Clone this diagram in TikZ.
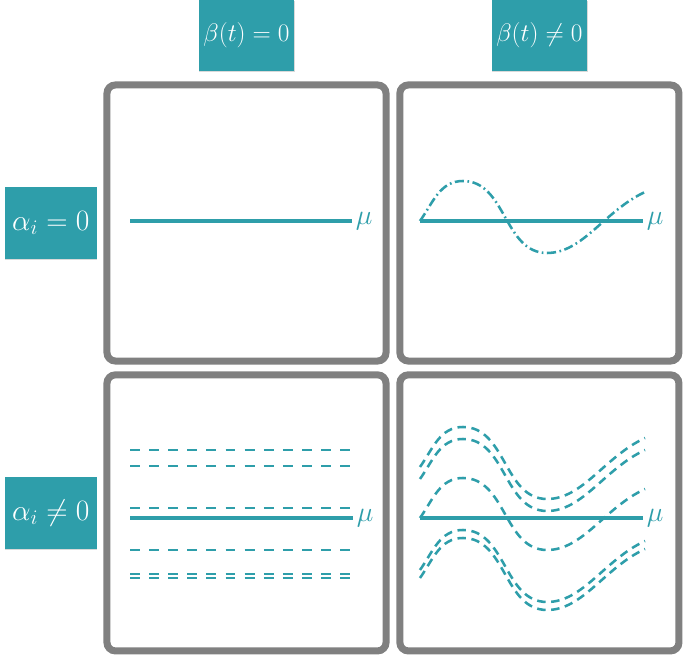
\RequirePackage{fix-cm}
\documentclass[tikz,border=0pt]{standalone}
\usepackage{amsmath,amssymb}
\usepackage{xcolor}
\usetikzlibrary{positioning,shadows}

\definecolor{tealbox}{RGB}{46,158,170}

\begin{document}
\begin{tikzpicture}[
  x=0.025cm, y=0.025cm,
  node distance=0.17cm,
  panel/.style={draw=gray, line width=5pt, rounded corners=6pt, fill=white,
                minimum width=6.975cm, minimum height=6.9cm},
  case/.style={fill=tealbox, text=white,
               minimum width=2.3cm, minimum height=1.78cm,
               drop shadow={opacity=0.3, shadow xshift=0.4pt, shadow yshift=-1.2pt}},
  mean/.style={draw=tealbox, line width=2.6pt},
  spread/.style={draw=tealbox, line width=1.8pt, dash pattern=on 7pt off 6.6pt},
  wiggle/.style={draw=tealbox, line width=1.8pt, dash pattern=on 6pt off 4pt},
  wigglemix/.style={draw=tealbox, line width=1.8pt,
                    dash pattern=on 6.5pt off 2.5pt on 1.2pt off 2.5pt},
  mulabel/.style={right, inner sep=1.5pt, text=tealbox,
                  font=\fontsize{20}{24}\selectfont},
  wave/.pic={\draw[pic actions] (0,0) to[out=55,in=180] (43,40)
               to[out=0,in=180] (127,-32)
               to[out=0,in=205,out looseness=0.8] (225,29);}
]
  \useasboundingbox (0,0) rectangle (685,657);

  % the four cases
  \node[panel] (TL) at (246.5,434) {};
  \node[panel] (TR) [right=of TL] {};
  \node[panel] (BL) [below=of TL] {};
  \node[panel] (BR) [right=of BL] {};

  \node[case, font=\fontsize{18}{22}\selectfont] (beta0) [above=0.26cm of TL] {$\beta(t) = 0$};
  \node[case, font=\fontsize{18}{22}\selectfont] (beta1) [above=0.26cm of TR] {$\beta(t) \neq 0$};
  \node[case, font=\fontsize{21}{25}\selectfont] (alpha0) [left=0.16cm of TL] {$\alpha_i = 0$};
  \node[case, font=\fontsize{21}{25}\selectfont] (alpha1) [left=0.16cm of BL] {$\alpha_i \neq 0$};

  % top row
  \coordinate (tl-s) at (130,436);
  \coordinate (tl-e) at (352,436);
  \draw[mean] (tl-s) -- (tl-e) node[mulabel] (mu1) {$\mu$};

  \coordinate (tr-s) at (420,436);
  \coordinate (tr-e) at (643,436);
  \pic[wigglemix] at (tr-s) {wave};
  \draw[mean] (tr-s) -- (tr-e) node[mulabel] (mu2) {$\mu$};

  % bottom row
  \draw[spread] (130,207) -- (350,207);
  \draw[spread] (130,191) -- (350,191);
  \draw[spread] (130,149) -- (350,149);
  \draw[spread] (130,107) -- (350,107);
  \draw[spread] (130,83) -- (350,83);
  \draw[spread] (130,79) -- (350,79);
  \coordinate (bl-s) at (130,139);
  \coordinate (bl-e) at (353,139);
  \draw[mean] (bl-s) -- (bl-e) node[mulabel] (mu3) {$\mu$};

  \coordinate (br-s) at (420,139);
  \coordinate (br-e) at (643,139);
  \pic[wiggle] at (420,190) {wave};
  \pic[wiggle] at (420,178) {wave};
  \pic[wiggle] at (br-s) {wave};
  \pic[wiggle] at (420,87) {wave};
  \pic[wiggle] at (420,79) {wave};
  \draw[mean] (br-s) -- (br-e) node[mulabel] (mu4) {$\mu$};
\end{tikzpicture}
\end{document}
